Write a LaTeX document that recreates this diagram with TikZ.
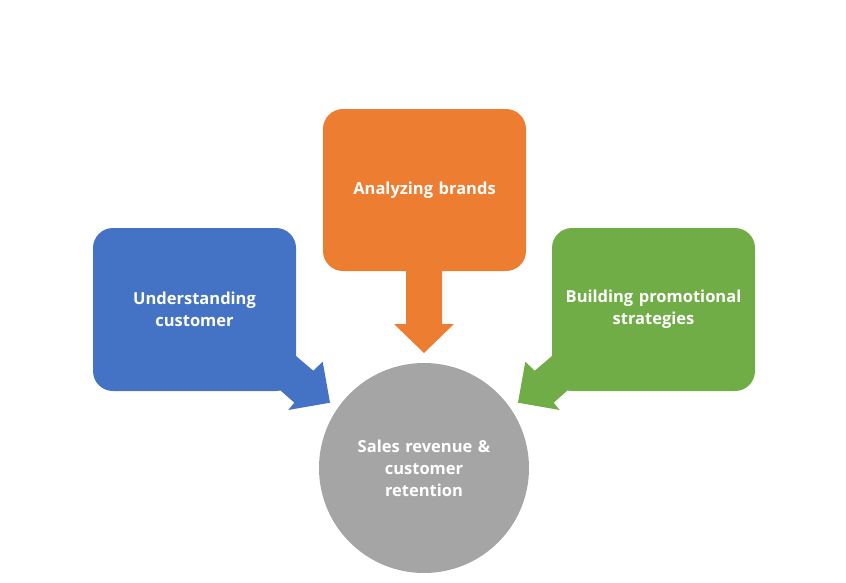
\documentclass[tikz,border=0pt]{standalone}
\usepackage{fontspec}
\setmainfont{Open Sans}
\usetikzlibrary{positioning}

\definecolor{custblue}{HTML}{4472C4}
\definecolor{brandorange}{HTML}{ED7D31}
\definecolor{promogreen}{HTML}{70AD47}
\definecolor{salesgray}{HTML}{A5A5A5}

\begin{document}
\begin{tikzpicture}[x=1pt,y=-1pt,
        box/.style={rounded corners=20pt,minimum width=203pt,minimum height=163pt,
          text width=195pt,align=center,inner sep=0pt,text=white,
          font=\bfseries\fontsize{16.5}{22}\selectfont},
        goal/.style={circle,minimum size=210pt,inner sep=0pt,text width=160pt,
          align=center,text=white,font=\bfseries\fontsize{16.5}{22}\selectfont}]

  \useasboundingbox (0,0) rectangle (846,582);

  \node[box,fill=custblue]    (cust)  at (194.5,309.5) {Understanding\\customer};
  \node[box,fill=brandorange,minimum height=162pt] (brand) at (424.5,190) {Analyzing brands};
  \node[box,fill=promogreen]  (promo) at (653.5,309.5) {Building promotional\\strategies};

  % arrows into the goal
  \fill[custblue] (290,380) -- (296,356) -- (313.3,370.7) -- (322.7,361.7)
        -- (330,402.7) -- (288.3,410) -- (294.3,402.7) -- (280,390) -- cycle;
  \fill[brandorange] (406,265) -- (406,324) -- (394,324) -- (424,353)
        -- (454,324) -- (442,324) -- (442,265) -- cycle;
  \fill[promogreen] (558,380) -- (552,356) -- (534.7,370.7) -- (525.3,361.7)
        -- (518,402.7) -- (559.7,410) -- (553.7,402.7) -- (568,390) -- cycle;

  \node[goal,fill=salesgray] (sales) at (424,468) {Sales revenue \&\\customer\\retention};
\end{tikzpicture}
\end{document}
